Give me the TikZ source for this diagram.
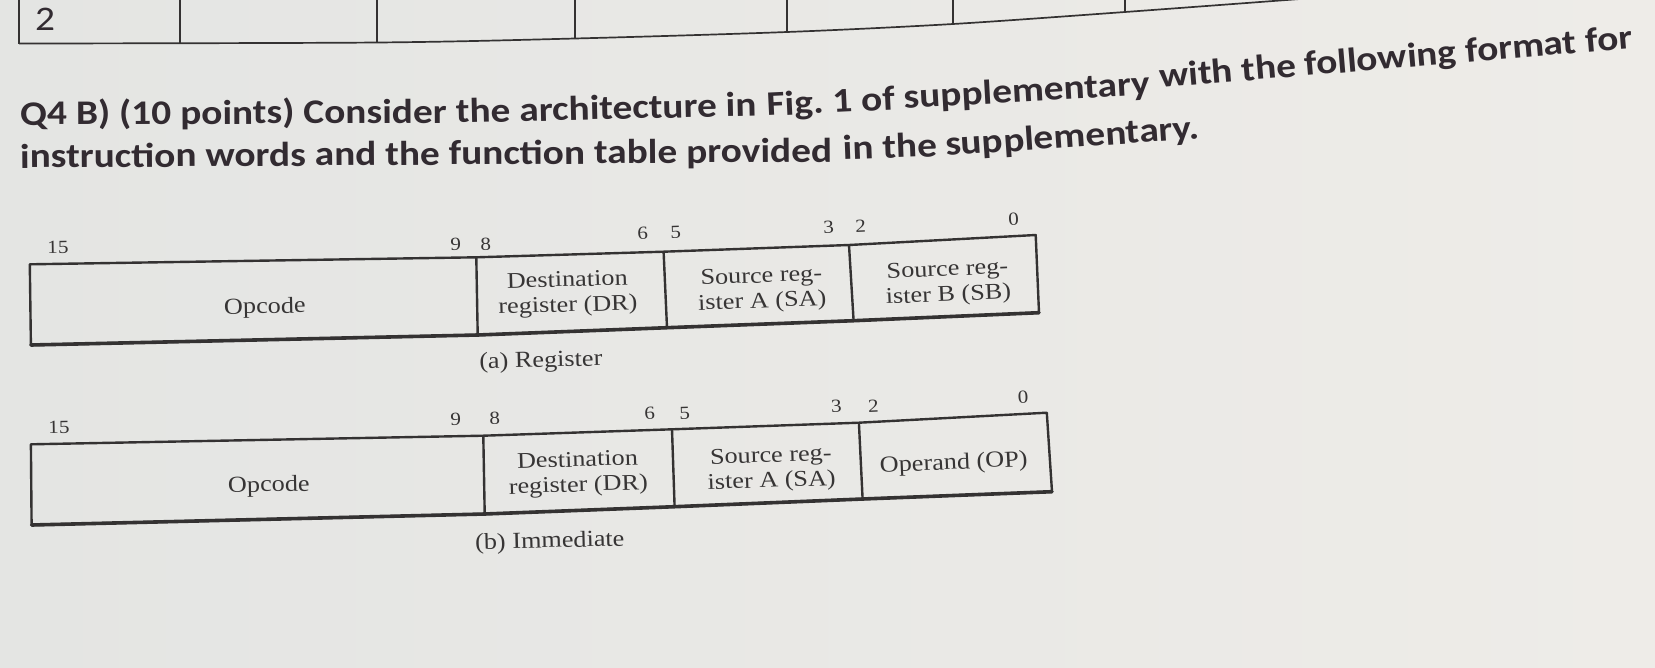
\documentclass[tikz,border=0pt]{standalone}
\usepackage{fontspec}
\newfontfamily\headfont[FakeStretch=1.14]{Carlito}
\newfontfamily\tabfont[FakeStretch=1.14]{Liberation Serif}
\newfontfamily\tabfontw[FakeStretch=1.165]{Liberation Serif}
\definecolor{ink}{RGB}{50,43,49}
\definecolor{tabink}{RGB}{55,53,53}
\definecolor{rule}{RGB}{52,50,50}
\definecolor{paperL}{RGB}{228,229,227}
\definecolor{paperR}{RGB}{238,236,232}
\tikzset{
  head/.style={font=\headfont\bfseries\fontsize{34.5}{40}\selectfont, text=ink, inner sep=0pt, anchor=base west},
  pagenum/.style={font=\headfont\fontsize{34.5}{40}\selectfont, text=ink, inner sep=0pt, anchor=base},
  tabtxt/.style={font=\tabfont\fontsize{23}{24}\selectfont, text=tabink, inner sep=0pt, anchor=base},
  tabtwo/.style={font=\tabfontw\fontsize{22.5}{25.2}\selectfont, text=tabink, inner sep=0pt, anchor=north, align=center},
  bitnum/.style={font=\tabfont\fontsize{18.5}{20}\selectfont, text=tabink, inner sep=0pt, anchor=base},
  captxt/.style={font=\tabfont\fontsize{23}{25}\selectfont, text=tabink, inner sep=0pt, anchor=base},
  tabline/.style={draw=rule, line width=2.4pt, line join=round},
  tabbottom/.style={draw=rule, line width=3.6pt, line cap=round, line join=round},
  gridline/.style={draw=rule, line width=1.7pt}
}
\begin{document}
\begin{tikzpicture}[x=1pt,y=-1pt]
\shade[left color=paperL,right color=paperR] (0,0) rectangle (1655,667);
\useasboundingbox (0,0) rectangle (1655,667);

% ---- top header table (cut off) ----
\draw[gridline] plot[smooth] coordinates {(19,43.5) (377,42.5) (575,38.5) (787,32) (953,24) (1125,12) (1300,-1)};
\foreach \x/\y in {19/43.5,180/43,377/42.5,575/38.5,787/32,953/24,1125/12}
  \draw[gridline] (\x,0) -- (\x,\y);
\node[pagenum] (pg) at (45,30) {2};

% ---- heading ----
\node[head, rotate=0.25] (h1) at (20,125) {Q4 B) (10 points) Consider};
\node[head, rotate=1.3]  (h2) at (456,123) {the architecture in};
\node[head, rotate=2.7]  (h3) at (767,116) {Fig.\ 1 of};
\node[head, rotate=3.2]  (h4) at (904,108.5) {supplementary};
\node[head, rotate=4.8]  (h5) at (1160,88) {with the following format for};
\node[head, rotate=0.42] (h6) at (20,168) {instruction words and the function table provided};
\node[head, rotate=2.2]  (h7) at (843,160) {in the};
\node[head, rotate=3.9]  (h8) at (946,156) {supplementary.};

% ---- table (a) Register ----
\coordinate (a0t) at (29.8,264.3);  \coordinate (a0b) at (30.9,345);
\coordinate (a1t) at (476.3,257.3); \coordinate (a1b) at (477.7,335);
\coordinate (a2t) at (663.6,251.7); \coordinate (a2b) at (667,327.7);
\coordinate (a3t) at (849,245);     \coordinate (a3b) at (853.6,320.7);
\coordinate (a4t) at (1035.7,235);  \coordinate (a4b) at (1039,312.7);
\draw[tabline] (a0t) -- (a1t) -- (a2t) -- (a3t) -- (a4t) -- (a4b) -- (a3b) -- (a2b) -- (a1b) -- (a0b) -- cycle;
\draw[tabline] (a1t) -- (a1b) (a2t) -- (a2b) (a3t) -- (a3b);
\draw[tabbottom] (a0b) -- (a1b) -- (a2b) -- (a3b) -- (a4b);

\node[bitnum, rotate=1] (a15) at (58,253.3) {15};
\node[bitnum, rotate=1.5] (a9) at (456,250.7) {9};
\node[bitnum, rotate=1.5] (a8) at (486,250) {8};
\node[bitnum, rotate=2] (a6) at (643,239.3) {6};
\node[bitnum, rotate=2] (a5) at (676,238.5) {5};
\node[bitnum, rotate=2.5] (a3) at (829,233.3) {3};
\node[bitnum, rotate=2.5] (a2) at (861,232.7) {2};
\node[bitnum, rotate=2.8] (a0) at (1014,225) {0};

\node[tabtxt, rotate=1] (aop) at (265,313.3) {Opcode};
\node[tabtwo, rotate=1.7] (adr) at (567,271.5) {Destination\\register (DR)};
\node[tabtwo, rotate=2.1] (asa) at (761,267.5) {Source reg-\\ister A (SA)};
\node[tabtwo, rotate=2.5] (asb) at (947,260.8) {Source reg-\\ister B (SB)};
\node[captxt, rotate=1.5] (capa) at (541,367.3) {(a) Register};

% ---- table (b) Immediate ----
\coordinate (b0t) at (30.9,444.3);  \coordinate (b0b) at (31.6,525);
\coordinate (b1t) at (483.3,435.7); \coordinate (b1b) at (484.7,514);
\coordinate (b2t) at (672,429.3);   \coordinate (b2b) at (674.6,506.7);
\coordinate (b3t) at (858.9,422.7); \coordinate (b3b) at (862.6,499);
\coordinate (b4t) at (1046.8,412.7);\coordinate (b4b) at (1052,491.7);
\draw[tabline] (b0t) -- (b1t) -- (b2t) -- (b3t) -- (b4t) -- (b4b) -- (b3b) -- (b2b) -- (b1b) -- (b0b) -- cycle;
\draw[tabline] (b1t) -- (b1b) (b2t) -- (b2b) (b3t) -- (b3b);
\draw[tabbottom] (b0b) -- (b1b) -- (b2b) -- (b3b) -- (b4b);

\node[bitnum, rotate=1] (b15) at (59,433.3) {15};
\node[bitnum, rotate=1.5] (b9) at (456,425) {9};
\node[bitnum, rotate=1.5] (b8) at (495,424) {8};
\node[bitnum, rotate=2] (b6) at (649.8,419.3) {6};
\node[bitnum, rotate=2] (b5) at (685,419) {5};
\node[bitnum, rotate=2.5] (b3) at (836.7,412.7) {3};
\node[bitnum, rotate=2.5] (b2) at (873.7,412) {2};
\node[bitnum, rotate=2.8] (b0) at (1023.5,403.3) {0};

\node[tabtxt, rotate=1.1] (bop) at (269,491.7) {Opcode};
\node[tabtwo, rotate=1.9] (bdr) at (577.2,451.5) {Destination\\register (DR)};
\node[tabtwo, rotate=2] (bsa) at (770.5,447) {Source reg-\\ister A (SA)};
\node[tabtxt, rotate=2.6] (bopd) at (954,469.3) {Operand (OP)};
\node[captxt, rotate=1.5] (capb) at (550,547.7) {(b) Immediate};
\end{tikzpicture}
\end{document}
